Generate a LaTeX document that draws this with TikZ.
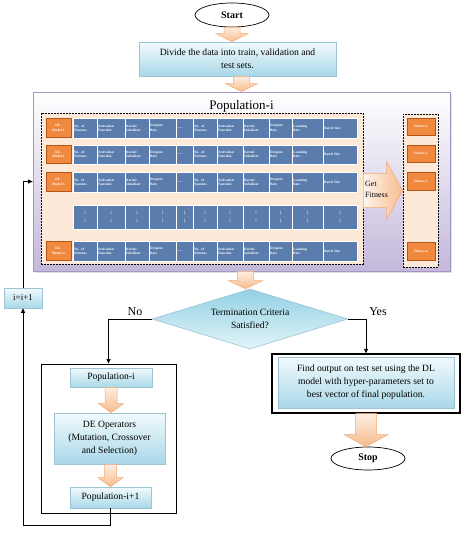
\documentclass[tikz,border=0pt]{standalone}
\usepackage{fontspec}
\setmainfont{Liberation Serif}
\usetikzlibrary{shapes.geometric,calc,shadows,arrows.meta}

\definecolor{bxtop}{HTML}{F2FAFC}
\definecolor{bxbot}{HTML}{A9D8E8}
\definecolor{bxborder}{HTML}{9CC4D5}
\definecolor{dtop}{HTML}{93D1E4}
\definecolor{dbot}{HTML}{E2F4F9}
\definecolor{artop}{HTML}{FDEEE2}
\definecolor{arbot}{HTML}{F7BC8C}
\definecolor{arborder}{HTML}{F2AA74}
\definecolor{pantop}{HTML}{FFFFFF}
\definecolor{panbot}{HTML}{C4B8DB}
\definecolor{panborder}{HTML}{A596C6}
\definecolor{peach}{HTML}{FCE9D8}
\definecolor{cellblue}{HTML}{5B7DAD}
\definecolor{labor}{HTML}{F0883E}
\definecolor{labborder}{HTML}{B4561A}

\newcommand\sixdots{......}

\tikzset{
  bluebox/.style={draw=bxborder, line width=0.6pt, top color=bxtop, bottom color=bxbot,
    inner sep=1pt, align=center, font=\fontsize{9.6}{13}\selectfont,
    drop shadow={shadow xshift=1.3pt, shadow yshift=-1.3pt, opacity=0.3}},
  termnode/.style={ellipse, draw=black, line width=0.7pt, fill=white, inner sep=0pt,
    font=\fontsize{10}{12}\selectfont\bfseries},
  cellnode/.style={draw=white, line width=0.5pt, fill=cellblue, text=white,
    inner xsep=1.2pt, inner ysep=0pt, align=left, font=\fontsize{3.5}{4.3}\selectfont\bfseries},
  dotcell/.style={draw=white, line width=0.5pt, fill=cellblue, text=white,
    inner sep=0pt, align=center, font=\fontsize{6}{5}\selectfont\bfseries},
  labnode/.style={draw=labborder, line width=0.7pt, fill=labor, text=white, align=center,
    inner sep=0pt, font=\fontsize{3.5}{4.3}\selectfont\bfseries},
  fatstyle/.style={top color=artop, bottom color=arbot, draw=arborder, line width=0.5pt},
  fathstyle/.style={left color=artop!60!white, right color=arbot, draw=arborder, line width=0.5pt},
  conn/.style={draw=black, line width=0.8pt, -{Triangle[length=4.5pt,width=4pt]}},
  dashbox/.style={draw=black, line width=0.9pt, dash pattern=on 2pt off 1pt, fill=peach},
  plainbox/.style={draw=black, line width=1pt, fill=white, inner sep=0pt}
}

% #1 start, #2 end, #3 body half width, #4 head half width, #5 head length
\newcommand\fatarr[5]{%
  \path[fatstyle] let \p1=#1, \p2=#2 in
    (\x1-#3pt,\y1) -- (\x1+#3pt,\y1) -- (\x1+#3pt,\y2+#5pt) -- (\x1+#4pt,\y2+#5pt)
    -- (\x1,\y2) -- (\x1-#4pt,\y2+#5pt) -- (\x1-#3pt,\y2+#5pt) -- cycle;}

\begin{document}
\begin{tikzpicture}[x=1pt,y=-1pt]
\useasboundingbox (0,0) rectangle (474,533);

% ---- top part
\node[termnode, minimum width=74, minimum height=24] (start) at (232,15) {Start};
\node[bluebox, minimum width=197, minimum height=34] (divide) at (237.5,59)
  {Divide the data into train, validation and\\test sets.};

% ---- population panel
\node[draw=panborder, line width=0.8pt, top color=pantop, bottom color=panbot,
      minimum width=417, minimum height=179, inner sep=0pt,
      drop shadow={shadow xshift=1.5pt, shadow yshift=-1.5pt, opacity=0.25}] (panel) at (241.5,181.5) {};
\node[font=\fontsize{13}{15}\selectfont, inner sep=0pt] (poptitle) at (241.5,106) {Population-i};
\node[dashbox, minimum width=322, minimum height=151, inner sep=0pt] (dashL) at (202,188.5) {};
\node[dashbox, minimum width=35, minimum height=153, inner sep=0pt] (dashF) at (420.5,190.5) {};

% rows
\foreach \r/\yt/\yb in {1/118/138, 2/145/164, 3/172/192, n/241/261}{
  \node[labnode, minimum width=25, minimum height={\yb-\yt-1}] (m\r) at (58.5,{(\yt+\yb)/2}) {DL-\\Model-\r};
  \foreach \a/\b/\t [count=\i] in {73/97/No. of\\Neurons, 97/125/Activation\\Function,
      125/149/Kernel\\Initializer, 149/176/Dropout\\Rate, 176/193/\sixdots,
      193/217/No. of\\Neurons, 217/243/Activation\\Function, 243/269/Kernel\\Initializer,
      269/292/Dropout\\Rate, 292/323/Learning\\Rate, 323/357/Batch Size}{
    \pgfmathsetmacro\tw{\b-\a-2.4}
    \node[cellnode, minimum width={\b-\a}, minimum height={\yb-\yt}, text width=\tw pt]
      (r\r c\i) at ({(\a+\b)/2},{(\yt+\yb)/2}) {\t};
  }
}
% dots row
\foreach \a/\b [count=\i] in {73/97, 97/125, 125/149, 149/176, 176/193, 193/217,
    217/243, 243/269, 269/292, 292/323, 323/357}{
  \node[dotcell, minimum width={\b-\a}, minimum height=24] (dc\i) at ({(\a+\b)/2},217) {:\\[3pt]:};
}

% fitness cells
\foreach \k/\yt/\yb in {1/118/135, 2/145/162, 3/172/190, n/242/260}{
  \node[labnode, minimum width=28, minimum height={\yb-\yt}] (f\k) at (421,{(\yt+\yb)/2}) {Fitness-\k};
}

% get fitness arrow
\path[fathstyle] let \p1=(dashL.east), \p2=(dashF.west) in
  (\x1,\y2+17pt) -- (\x2-16pt,\y2+17pt) -- (\x2-16pt,\y2+29pt) -- (\x2,\y2)
  -- (\x2-16pt,\y2-29pt) -- (\x2-16pt,\y2-17pt) -- (\x1,\y2-17pt) -- cycle;
\node[font=\fontsize{8}{11}\selectfont, align=left, anchor=west, inner sep=0pt] (gftxt) at (365,189) {Get\\Fitness};

% ---- decision
\node[diamond, aspect=3.2, draw=bxborder, line width=0.6pt, top color=dtop, bottom color=dbot,
      minimum width=196, minimum height=60, inner sep=0pt, align=center,
      font=\fontsize{9.6}{13}\selectfont] (dia) at (250,319) {Termination Criteria\\Satisfied?};
\node[font=\fontsize{12}{14}\selectfont, inner sep=0pt] (nolab) at (135,312) {No};
\node[font=\fontsize{12}{14}\selectfont, inner sep=0pt] (yeslab) at (378,312) {Yes};

% ---- loop box
\node[plainbox, minimum width=135, minimum height=149] (loopbox) at (108.5,438.5) {};
\node[bluebox, minimum width=82, minimum height=19] (popi) at (111,377.5) {Population-i};
\node[bluebox, minimum width=111, minimum height=51] (deop) at (109.5,438.5)
  {DE Operators\\(Mutation, Crossover\\and Selection)};
\node[bluebox, minimum width=81, minimum height=21] (popi1) at (110.5,497.5) {Population-i+1};
\node[bluebox, minimum width=38, minimum height=20, font=\fontsize{9}{11}\selectfont] (inc) at (23,298) {i=i+1};

% ---- output
\node[plainbox, line width=1.3pt, minimum width=188, minimum height=59] (outbox) at (366,383.5) {};
\node[bluebox, minimum width=176, minimum height=51] (outin) at (366,382.5)
  {Find output on test set using the DL\\model with hyper-parameters set to\\best vector of final population.};
\node[termnode, minimum width=74, minimum height=23] (stop) at (368,458.5) {Stop};

% ---- fat arrows
\fatarr{(start.south)}{(divide.north)}{8}{16}{8}
\fatarr{([xshift=4pt]divide.south)}{(panel.north)}{8}{16}{8}
\fatarr{([xshift=4pt]panel.south)}{(dia.north)}{8}{17}{8}
\fatarr{(popi.south)}{(deop.north)}{6}{12.5}{9}
\fatarr{([xshift=1pt]deop.south)}{(popi1.north)}{6}{12.5}{9}
\fatarr{(outbox.south)}{(stop.north)}{10.5}{22}{12}

% ---- connectors
\draw[conn] (dia.west) -| (loopbox.north);
\draw[conn] (dia.east) -| (outbox.north);
\coordinate (lp1) at (110.5,525);
\draw[conn] (popi1.south) -- (lp1) -| (inc.south);
\draw[conn] (inc.north) |- (panel.west);

\end{tikzpicture}
\end{document}
